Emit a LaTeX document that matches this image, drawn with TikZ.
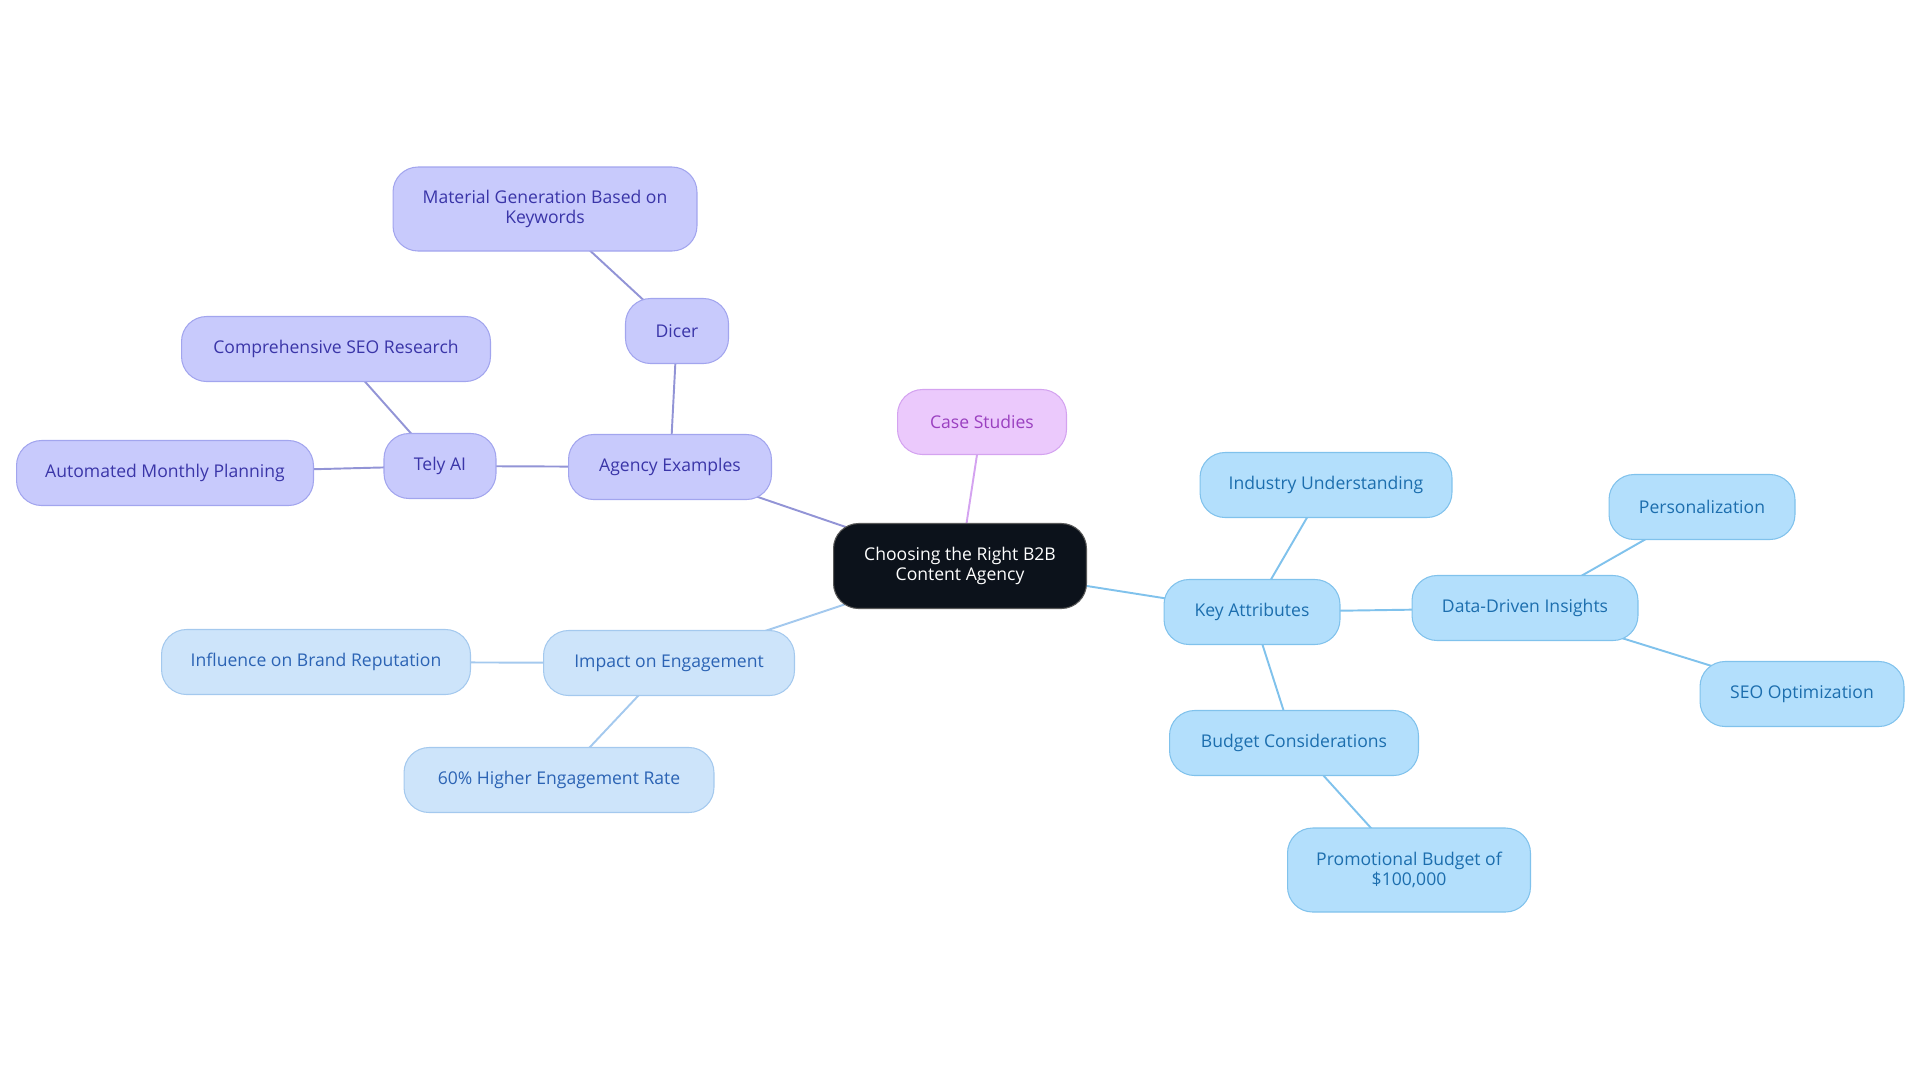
\documentclass[tikz,border=0pt]{standalone}
\usepackage{fontspec}
\setmainfont{Open Sans}
\usetikzlibrary{backgrounds}
\definecolor{agencyfill}{HTML}{C8CAFC}
\definecolor{agencydraw}{HTML}{A2A5EE}
\definecolor{agencytext}{HTML}{3A35A8}
\definecolor{attrfill}{HTML}{B3DFFC}
\definecolor{attrdraw}{HTML}{80C2EC}
\definecolor{attrtext}{HTML}{1C6EAE}
\definecolor{impactfill}{HTML}{CDE4FA}
\definecolor{impactdraw}{HTML}{A4C9EE}
\definecolor{impacttext}{HTML}{2B63B4}
\definecolor{casefill}{HTML}{EBC9FC}
\definecolor{casedraw}{HTML}{D4A3F0}
\definecolor{casetext}{HTML}{9A40C0}
\definecolor{rootfill}{HTML}{0C121B}
\begin{document}
\begin{tikzpicture}[x=0.02cm, y=-0.02cm,
    box/.style={draw, line width=0.6pt, rounded corners=0.5cm, minimum height=1.3cm,
      align=center, font=\fontsize{10}{11}\selectfont, inner sep=0pt},
    root/.style={box, fill=rootfill, draw=gray!70!black, text=white},
    agency/.style={box, fill=agencyfill, draw=agencydraw, text=agencytext},
    attr/.style={box, fill=attrfill, draw=attrdraw, text=attrtext},
    impact/.style={box, fill=impactfill, draw=impactdraw, text=impacttext},
    cases/.style={box, fill=casefill, draw=casedraw, text=casetext},
    link/.style={line width=1.1pt}]
    \useasboundingbox (0,0) rectangle (1920,1083);
    % Nodes
    \node[root, minimum width=5.06cm, minimum height=1.7cm] (root) at (960,566) {Choosing the Right B2B\\Content Agency};
    \node[cases, minimum width=3.38cm] (cases) at (982,422) {Case Studies};
    \node[attr, minimum width=3.52cm] (key) at (1252,612) {Key Attributes};
    \node[attr, minimum width=5.04cm] (industry) at (1326,485) {Industry Understanding};
    \node[attr, minimum width=4.52cm] (data) at (1525,608) {Data-Driven Insights};
    \node[attr, minimum width=3.72cm] (personal) at (1702,507) {Personalization};
    \node[attr, minimum width=4.08cm] (seoopt) at (1802,694) {SEO Optimization};
    \node[attr, minimum width=4.98cm] (budget) at (1294,743) {Budget Considerations};
    \node[attr, minimum width=4.86cm, minimum height=1.68cm] (promo) at (1409,870) {Promotional Budget of\\\$100,000};
    \node[agency, minimum width=4.06cm] (examples) at (670,467) {Agency Examples};
    \node[agency, minimum width=2.06cm] (dicer) at (677,331) {Dicer};
    \node[agency, minimum width=6.08cm, minimum height=1.68cm] (material) at (545,209) {Material Generation Based on\\Keywords};
    \node[agency, minimum width=2.24cm] (tely) at (440,466) {Tely AI};
    \node[agency, minimum width=6.18cm] (seores) at (336,349) {Comprehensive SEO Research};
    \node[agency, minimum width=5.94cm] (monthly) at (165,473) {Automated Monthly Planning};
    \node[impact, minimum width=5.02cm] (impact) at (669,663) {Impact on Engagement};
    \node[impact, minimum width=6.18cm] (brand) at (316,662) {Influence on Brand Reputation};
    \node[impact, minimum width=6.2cm] (rate) at (559,780) {60\% Higher Engagement Rate};
    % Edges, behind the boxes
    \begin{scope}[on background layer]
    \draw[link, casedraw] (root.center) -- (cases.center);
    \draw[link, attrdraw] (root.center) -- (key.center);
    \draw[link, attrdraw] (key.center) -- (industry.center);
    \draw[link, attrdraw] (key.center) -- (data.center);
    \draw[link, attrdraw] (data.center) -- (personal.center);
    \draw[link, attrdraw] (data.center) -- (seoopt.center);
    \draw[link, attrdraw] (key.center) -- (budget.center);
    \draw[link, attrdraw] (budget.center) -- (promo.center);
    \draw[link, agencydraw!90!black] (root.center) -- (examples.center);
    \draw[link, agencydraw!90!black] (examples.center) -- (dicer.center);
    \draw[link, agencydraw!90!black] (dicer.center) -- (material.center);
    \draw[link, agencydraw!90!black] (examples.center) -- (tely.center);
    \draw[link, agencydraw!90!black] (tely.center) -- (seores.center);
    \draw[link, agencydraw!90!black] (tely.center) -- (monthly.center);
    \draw[link, impactdraw] (root.center) -- (impact.center);
    \draw[link, impactdraw] (impact.center) -- (brand.center);
    \draw[link, impactdraw] (impact.center) -- (rate.center);
    \end{scope}
\end{tikzpicture}
\end{document}
